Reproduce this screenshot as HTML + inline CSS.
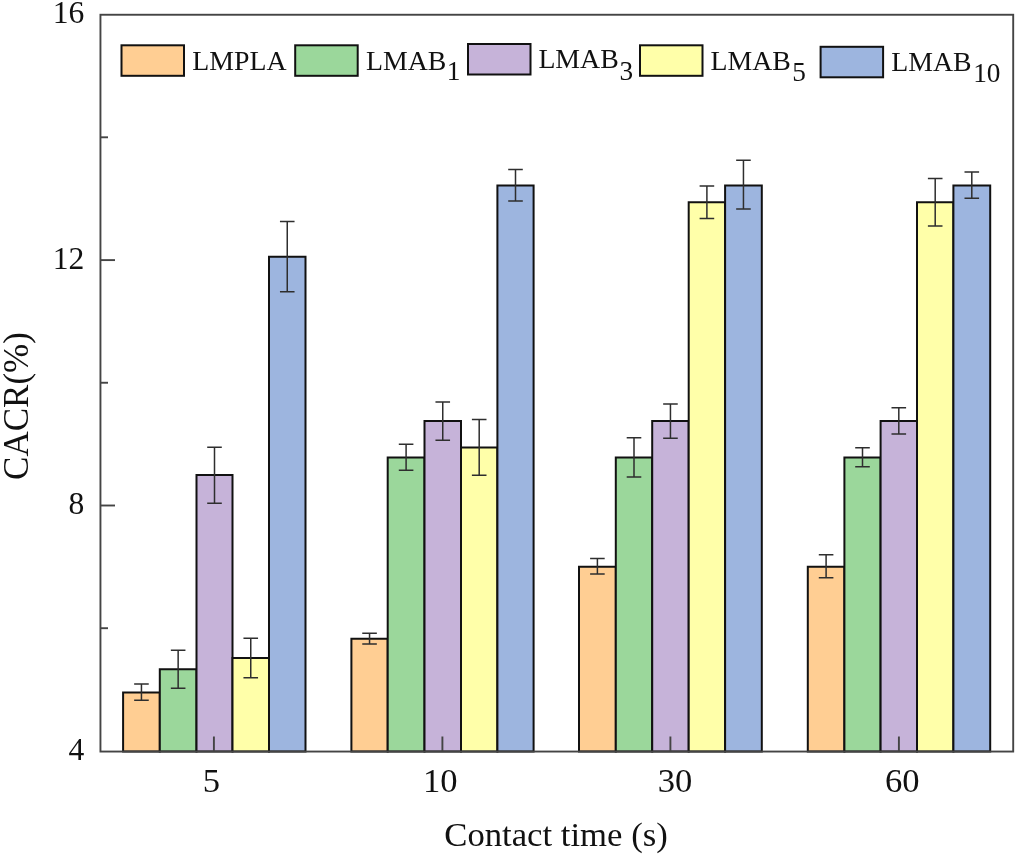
<!DOCTYPE html>
<html lang="en">
<head>
<meta charset="utf-8">
<title>CACR vs Contact time</title>
<style>
html,body{margin:0;padding:0;background:#fff;}
body{width:1016px;height:854px;overflow:hidden;}
svg{display:block;}
text{font-family:"Liberation Serif","Times New Roman",serif;fill:#111;}
.tick{font-size:31.6px;}
.xtick{font-size:34.6px;}
.title{font-size:35px;}
.leg{font-size:27.8px;}
.sub{font-size:27.3px;}
</style>
</head>
<body>
<svg width="1016" height="854" viewBox="0 0 1016 854">
<rect x="0" y="0" width="1016" height="854" fill="#ffffff"/>

<g stroke="#111" stroke-width="2" stroke-linejoin="miter">
<rect x="123.10" y="692.50" width="36.70" height="59.00" fill="#FFCE93"/>
<rect x="159.80" y="669.25" width="36.70" height="82.25" fill="#9BD79B"/>
<rect x="196.50" y="475.00" width="36.00" height="276.50" fill="#C6B3D9"/>
<rect x="232.50" y="658.00" width="36.50" height="93.50" fill="#FFFFA9"/>
<rect x="269.00" y="256.75" width="36.50" height="494.75" fill="#9DB5DF"/>
<rect x="351.40" y="638.75" width="36.30" height="112.75" fill="#FFCE93"/>
<rect x="387.70" y="457.50" width="36.80" height="294.00" fill="#9BD79B"/>
<rect x="424.50" y="421.00" width="36.50" height="330.50" fill="#C6B3D9"/>
<rect x="461.00" y="447.50" width="36.40" height="304.00" fill="#FFFFA9"/>
<rect x="497.40" y="185.50" width="36.20" height="566.00" fill="#9DB5DF"/>
<rect x="579.00" y="566.75" width="36.80" height="184.75" fill="#FFCE93"/>
<rect x="615.80" y="457.50" width="36.40" height="294.00" fill="#9BD79B"/>
<rect x="652.20" y="421.00" width="36.50" height="330.50" fill="#C6B3D9"/>
<rect x="688.70" y="202.25" width="36.40" height="549.25" fill="#FFFFA9"/>
<rect x="725.10" y="185.50" width="36.70" height="566.00" fill="#9DB5DF"/>
<rect x="807.80" y="566.75" width="36.60" height="184.75" fill="#FFCE93"/>
<rect x="844.40" y="457.50" width="36.20" height="294.00" fill="#9BD79B"/>
<rect x="880.60" y="421.00" width="36.40" height="330.50" fill="#C6B3D9"/>
<rect x="917.00" y="202.25" width="36.40" height="549.25" fill="#FFFFA9"/>
<rect x="953.40" y="185.50" width="36.80" height="566.00" fill="#9DB5DF"/>
</g>
<g stroke="#2e2e2e" stroke-width="1.5" fill="none">
<path d="M134.15 683.95H148.75M134.15 700.30H148.75M141.45 683.95V700.30"/>
<path d="M170.85 650.20H185.45M170.85 688.30H185.45M178.15 650.20V688.30"/>
<path d="M207.20 447.20H221.80M207.20 503.30H221.80M214.50 447.20V503.30"/>
<path d="M243.45 638.20H258.05M243.45 677.80H258.05M250.75 638.20V677.80"/>
<path d="M279.95 221.45H294.55M279.95 291.80H294.55M287.25 221.45V291.80"/>
<path d="M362.25 633.20H376.85M362.25 644.05H376.85M369.55 633.20V644.05"/>
<path d="M398.80 444.20H413.40M398.80 470.30H413.40M406.10 444.20V470.30"/>
<path d="M435.45 401.95H450.05M435.45 440.30H450.05M442.75 401.95V440.30"/>
<path d="M471.90 419.45H486.50M471.90 475.30H486.50M479.20 419.45V475.30"/>
<path d="M508.20 169.45H522.80M508.20 201.05H522.80M515.50 169.45V201.05"/>
<path d="M590.10 558.45H604.70M590.10 574.05H604.70M597.40 558.45V574.05"/>
<path d="M626.70 437.70H641.30M626.70 477.05H641.30M634.00 437.70V477.05"/>
<path d="M663.15 403.95H677.75M663.15 438.30H677.75M670.45 403.95V438.30"/>
<path d="M699.60 185.95H714.20M699.60 218.55H714.20M706.90 185.95V218.55"/>
<path d="M736.15 160.20H750.75M736.15 209.05H750.75M743.45 160.20V209.05"/>
<path d="M818.80 554.70H833.40M818.80 577.80H833.40M826.10 554.70V577.80"/>
<path d="M855.20 447.70H869.80M855.20 466.80H869.80M862.50 447.70V466.80"/>
<path d="M891.50 407.70H906.10M891.50 434.05H906.10M898.80 407.70V434.05"/>
<path d="M927.90 178.45H942.50M927.90 226.05H942.50M935.20 178.45V226.05"/>
<path d="M964.50 171.95H979.10M964.50 198.30H979.10M971.80 171.95V198.30"/>
</g>
<g stroke="#444444" stroke-width="1.9" fill="none">
<rect x="100.45" y="14.75" width="912.75" height="736.80"/>
<path d="M100.45 260.1H115"/>
<path d="M100.45 505.5H115"/>
<path d="M100.45 137.3H108"/>
<path d="M100.45 382.75H108"/>
<path d="M100.45 628.2H108"/>
<path d="M213.9 751.55V736.5"/>
<path d="M442.4 751.55V736.5"/>
<path d="M670.4 751.55V736.5"/>
<path d="M898.9 751.55V736.5"/>
</g>
<text class="tick" x="84.4" y="23.3" text-anchor="end">16</text>
<text class="tick" x="84.4" y="268.8" text-anchor="end">12</text>
<text class="tick" x="84.4" y="514.2" text-anchor="end">8</text>
<text class="tick" x="84.4" y="759.7" text-anchor="end">4</text>
<text class="xtick" x="211.4" y="792" text-anchor="middle">5</text>
<text class="xtick" x="440.3" y="792" text-anchor="middle">10</text>
<text class="xtick" x="675.0" y="792" text-anchor="middle">30</text>
<text class="xtick" x="902.3" y="792" text-anchor="middle">60</text>
<text class="title" style="font-size:34.7px" x="556" y="845.5" text-anchor="middle">Contact time (s)</text>
<text class="title" transform="translate(27.6,406) rotate(-90)" text-anchor="middle">CACR(%)</text>
<rect x="121.5" y="45.3" width="62.5" height="30.5" fill="#FFCE93" stroke="#111" stroke-width="2"/>
<text class="leg" x="192.3" y="70">LMPLA</text>
<rect x="295.2" y="45.3" width="62.5" height="30.5" fill="#9BD79B" stroke="#111" stroke-width="2"/>
<text class="leg" x="366.0" y="69.6">LMAB<tspan class="sub" x="446.8" y="80">1</tspan></text>
<rect x="468" y="44" width="62.5" height="30.5" fill="#C6B3D9" stroke="#111" stroke-width="2"/>
<text class="leg" x="538.4" y="68.1">LMAB<tspan class="sub" x="619.4" y="80.1">3</tspan></text>
<rect x="640" y="45.3" width="62.5" height="30.5" fill="#FFFFA9" stroke="#111" stroke-width="2"/>
<text class="leg" x="710.5" y="69.6">LMAB<tspan class="sub" x="792.2" y="80.6">5</tspan></text>
<rect x="820.6" y="46.8" width="62.5" height="30.5" fill="#9DB5DF" stroke="#111" stroke-width="2"/>
<text class="leg" x="891.2" y="71.2">LMAB<tspan class="sub" x="973.2" y="81.7">10</tspan></text>
</svg>
</body>
</html>
